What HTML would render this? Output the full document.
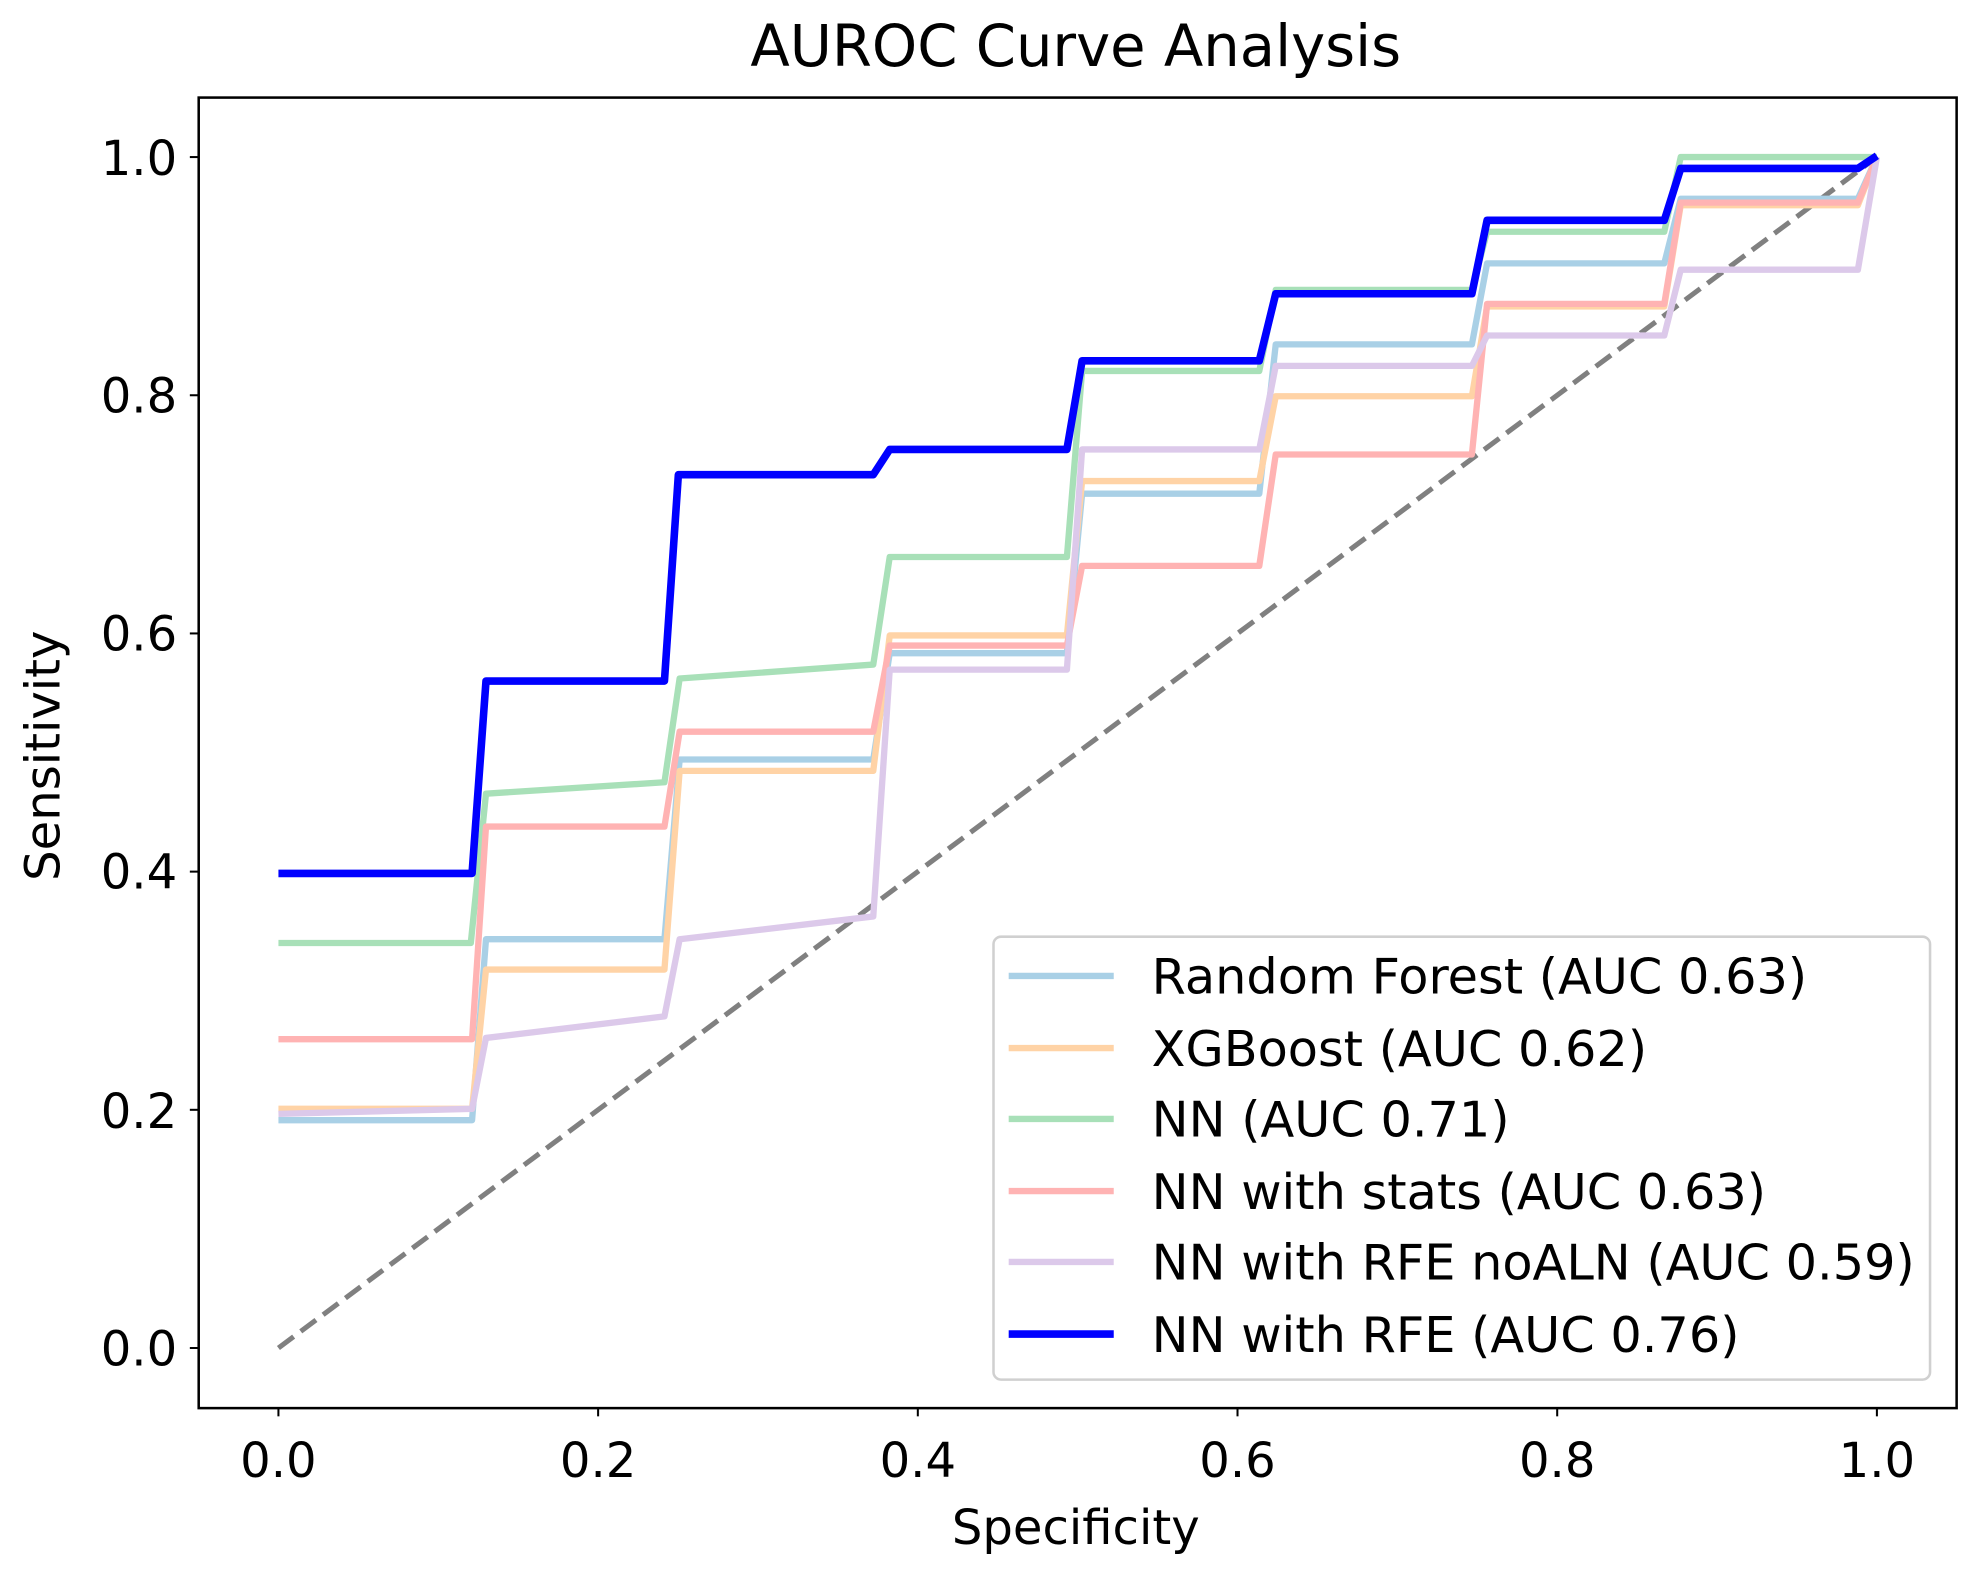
<!DOCTYPE html>
<html><head><meta charset="utf-8"><style>html,body{margin:0;padding:0;background:#fff}svg{display:block}</style></head><body>
<svg width="1987" height="1581" viewBox="0 0 1570 1249" xmlns="http://www.w3.org/2000/svg" font-family="'DejaVu Sans','Liberation Sans',sans-serif">
<rect width="1570" height="1249" fill="#fff"/>
<text x="850" y="52" font-size="45.5" text-anchor="middle">AUROC Curve Analysis</text>
<g fill="none" stroke-width="5" stroke-linejoin="round">
<polyline stroke="#808080" stroke-width="4" stroke-dasharray="15,7" points="220,1065 1483,124"/>
<polyline stroke="#a9d0e6" points="220,885 373,885 384,742 525,742 537,600 690,600 703,516 843,516 855,390 995,390 1008,272 1163,272 1175,208 1315,208 1328,157 1468,157 1483,124"/>
<polyline stroke="#ffd3a6" points="220,876 373,876 384,766 525,766 537,609 690,609 703,502 843,502 855,380 995,380 1008,313 1163,313 1175,242 1315,242 1328,162 1468,162 1483,124"/>
<polyline stroke="#a8e0b8" points="220,745 372,745 384,627 525,618 537,536 690,525 703,440 843,440 855,293 995,293 1008,229 1163,229 1175,183 1315,183 1328,124 1483,124"/>
<polyline stroke="#ffb3b3" points="220,821 373,821 384,653 525,653 537,578 690,578 703,510 843,510 855,447 995,447 1008,359 1163,359 1175,240 1315,240 1328,160 1468,160 1483,124"/>
<polyline stroke="#dcc9ea" points="220,880 373,876 384,820 525,803 537,742 690,724 703,529 843,529 855,355 995,355 1008,289 1163,289 1175,265 1315,265 1328,213 1468,213 1483,124"/>
<polyline stroke="#0000ff" stroke-width="6" points="220,690 373,690 384,538 525,538 536,375 690,375 703,355 843,355 855,285 995,285 1008,232 1163,232 1175,174 1315,174 1328,133 1468,133 1483,123"/>
</g>
<rect x="157" y="77" width="1389" height="1035.5" fill="none" stroke="#000" stroke-width="2"/>
<g stroke="#000" stroke-width="1.6">
<line x1="220" y1="1112" x2="220" y2="1119"/><line x1="472.6" y1="1112" x2="472.6" y2="1119"/><line x1="725.2" y1="1112" x2="725.2" y2="1119"/><line x1="977.8" y1="1112" x2="977.8" y2="1119"/><line x1="1230.4" y1="1112" x2="1230.4" y2="1119"/><line x1="1483" y1="1112" x2="1483" y2="1119"/>
<line x1="150" y1="1065" x2="157" y2="1065"/><line x1="150" y1="876.8" x2="157" y2="876.8"/><line x1="150" y1="688.6" x2="157" y2="688.6"/><line x1="150" y1="500.4" x2="157" y2="500.4"/><line x1="150" y1="312.2" x2="157" y2="312.2"/><line x1="150" y1="124" x2="157" y2="124"/>
</g>
<g font-size="38" text-anchor="middle">
<text x="220" y="1167">0.0</text><text x="472.6" y="1167">0.2</text><text x="725.2" y="1167">0.4</text><text x="977.8" y="1167">0.6</text><text x="1230.4" y="1167">0.8</text><text x="1483" y="1167">1.0</text>
</g>
<g font-size="38" text-anchor="end">
<text x="140" y="1079">0.0</text><text x="140" y="891">0.2</text><text x="140" y="702">0.4</text><text x="140" y="514">0.6</text><text x="140" y="326">0.8</text><text x="140" y="138">1.0</text>
</g>
<text x="850" y="1220" font-size="38" text-anchor="middle">Specificity</text>
<text transform="translate(47,597) rotate(-90)" font-size="38" text-anchor="middle">Sensitivity</text>
<rect x="785" y="740" width="740" height="350" rx="6" fill="#fff" fill-opacity="0.85" stroke="#d0d0d0" stroke-width="2"/>
<g stroke-width="5">
<line x1="797" y1="771" x2="880" y2="771" stroke="#a9d0e6"/>
<line x1="797" y1="828" x2="880" y2="828" stroke="#ffd3a6"/>
<line x1="797" y1="884" x2="880" y2="884" stroke="#a8e0b8"/>
<line x1="797" y1="941" x2="880" y2="941" stroke="#ffb3b3"/>
<line x1="797" y1="997" x2="880" y2="997" stroke="#dcc9ea"/>
<line x1="797" y1="1054" x2="880" y2="1054" stroke="#0000ff" stroke-width="6"/>
</g>
<g font-size="39">
<text x="910" y="785">Random Forest (AUC 0.63)</text>
<text x="910" y="842">XGBoost (AUC 0.62)</text>
<text x="910" y="898">NN (AUC 0.71)</text>
<text x="910" y="955">NN with stats (AUC 0.63)</text>
<text x="910" y="1011">NN with RFE noALN (AUC 0.59)</text>
<text x="910" y="1068">NN with RFE (AUC 0.76)</text>
</g>
</svg>
</body></html>
